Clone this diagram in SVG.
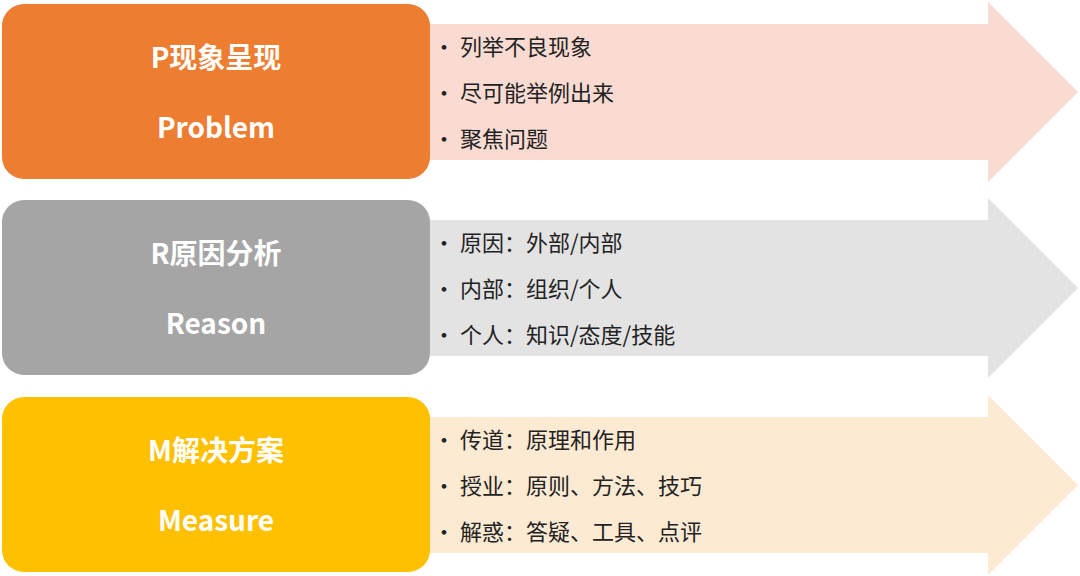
<svg xmlns="http://www.w3.org/2000/svg" width="1080" height="576" viewBox="0 0 1080 576">
<style>
.t{font-family:"Noto Sans CJK SC","Open Sans",sans-serif;font-weight:bold;font-size:28px;fill:#fff;text-anchor:middle}
.b{font-family:"Noto Sans CJK SC","Open Sans",sans-serif;font-size:22px;fill:#222}
</style>
<rect width="1080" height="576" fill="#fff"/>
<g id="connectors"></g>
<g id="row1">
<path d="M430 24H988V2L1078 92L988 182V160H430Z" fill="#FADBD2"/>
<rect x="2" y="4" width="428" height="175" rx="22" fill="#ED7D31"/>
<text class="t" x="216" y="68">P现象呈现</text>
<text class="t" x="216" y="138">Problem</text>
<text class="b" x="433" y="55">• 列举不良现象</text>
<text class="b" x="433" y="101">• 尽可能举例出来</text>
<text class="b" x="433" y="147">• 聚焦问题</text>
</g>
<g id="row2">
<path d="M430 220H988V198L1078 288L988 378V356H430Z" fill="#E3E3E3"/>
<rect x="2" y="200" width="428" height="175" rx="22" fill="#A5A5A5"/>
<text class="t" x="216" y="264">R原因分析</text>
<text class="t" x="216" y="334">Reason</text>
<text class="b" x="433" y="251">• 原因：外部/内部</text>
<text class="b" x="433" y="297">• 内部：组织/个人</text>
<text class="b" x="433" y="343">• 个人：知识/态度/技能</text>
</g>
<g id="row3">
<path d="M430 417H988V395L1078 485L988 575V553H430Z" fill="#FDEAD3"/>
<rect x="2" y="397" width="428" height="175" rx="22" fill="#FFC000"/>
<text class="t" x="216" y="461">M解决方案</text>
<text class="t" x="216" y="531">Measure</text>
<text class="b" x="433" y="448">• 传道：原理和作用</text>
<text class="b" x="433" y="494">• 授业：原则、方法、技巧</text>
<text class="b" x="433" y="540">• 解惑：答疑、工具、点评</text>
</g>
</svg>
